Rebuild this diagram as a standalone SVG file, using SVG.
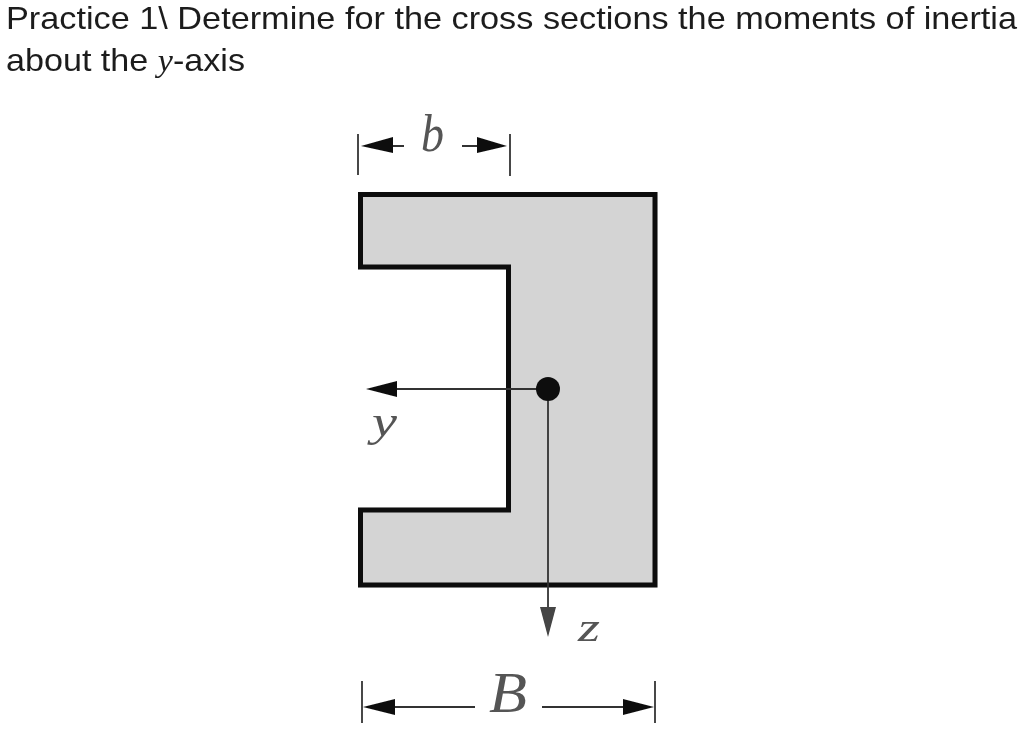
<svg xmlns="http://www.w3.org/2000/svg" width="1022" height="729" viewBox="0 0 1022 729">
<defs><filter id="soft" x="-5%" y="-5%" width="110%" height="110%"><feGaussianBlur stdDeviation="0.6"/></filter></defs>
<style>
.t{font-family:"Liberation Sans",Arial,sans-serif;font-size:30.500px;fill:#1c1c1c}
.m{font-family:"Liberation Serif","Times New Roman",serif;font-style:italic;fill:#555}
.l{stroke:#333;stroke-width:1.800;fill:none}
.a{fill:#111}
</style>
<rect width="1022" height="729" fill="#fff"/>
<g filter="url(#soft)">
<g id="heading">
<text class="t" x="6" y="29" textLength="1011" lengthAdjust="spacingAndGlyphs">Practice 1\ Determine for the cross sections the moments of inertia</text>
<text class="t" x="6" y="71" textLength="239" lengthAdjust="spacingAndGlyphs">about the <tspan font-family="Liberation Serif" font-style="italic">y</tspan>-axis</text>
</g>
<g id="section">
<path d="M360.500 194.500H655V585H360.500V510H508.500V267H360.500Z" fill="#d4d4d4" stroke="#0d0d0d" stroke-width="5" stroke-linejoin="miter"/>
</g>
<g id="connectors">
<path class="l" d="M358 134V175M510 134V176M404 146H385M462 146H490"/>
<path class="a" d="M361 146L393 137V153Z"/>
<path class="a" d="M507 146L477 137V153Z"/>
<path class="l" d="M395 389H548"/>
<path class="a" d="M366 389L397 381V397Z"/>
<path class="l" d="M548 389V610" stroke="#555"/>
<path d="M548 637L540 607H556Z" fill="#444"/>
<path class="l" d="M362 681V723M655 681V723M475 707H390M542 707H630"/>
<path class="a" d="M363 707L395 699V715Z"/>
<path class="a" d="M654 707L623 699V715Z"/>
</g>
<g id="centroid"><circle cx="548" cy="389" r="12" fill="#111"/></g>
<g id="label-b"><text class="m" x="421" y="151" font-size="52" textLength="23" lengthAdjust="spacingAndGlyphs">b</text></g>
<g id="label-y"><text class="m" x="372" y="436" font-size="44" textLength="25" lengthAdjust="spacingAndGlyphs">y</text></g>
<g id="label-z"><text class="m" x="578" y="641" font-size="42" fill="#888" textLength="22" lengthAdjust="spacingAndGlyphs">z</text></g>
<g id="label-B"><text class="m" x="489" y="712" font-size="58" textLength="38" lengthAdjust="spacingAndGlyphs">B</text></g>
</g>
</svg>
